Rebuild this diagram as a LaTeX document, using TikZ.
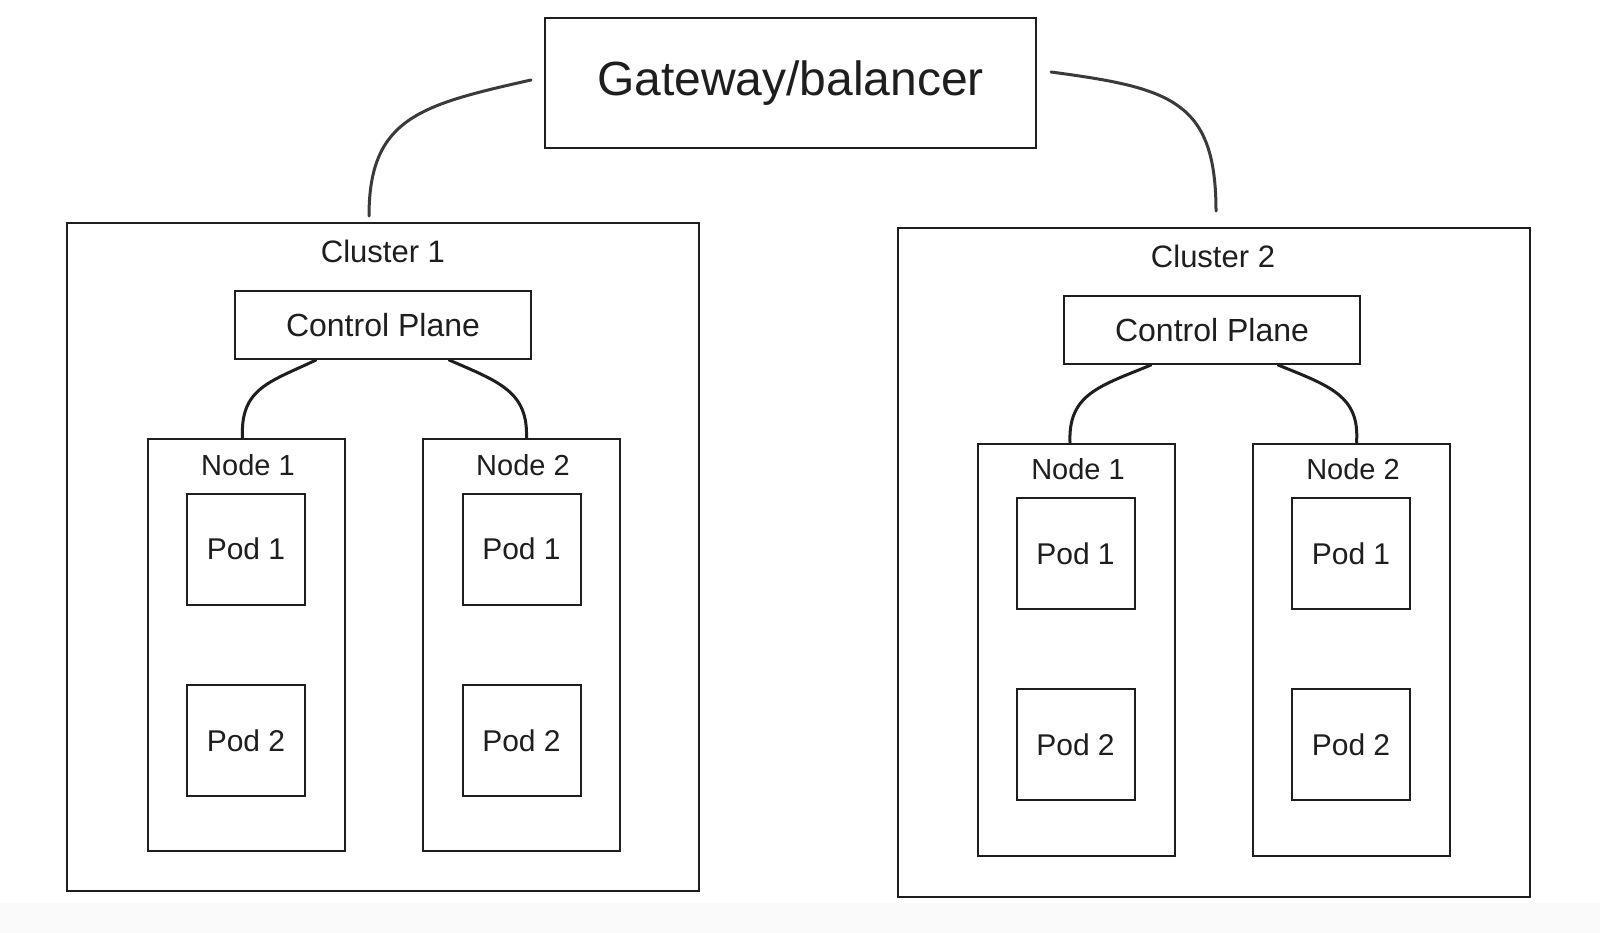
\documentclass[tikz,border=0pt]{standalone}
\usepackage{fontspec}
\setmainfont{Liberation Sans}
\definecolor{ink}{HTML}{1E1E1E}
\definecolor{wire}{HTML}{3A3A3A}
\definecolor{band}{HTML}{FAFAFA}
\begin{document}
\begin{tikzpicture}[x=1pt,y=-1pt,
  box/.style={draw=ink,line width=2pt,inner sep=0pt,rectangle},
  lbl/.style={text=ink,inner sep=0pt,font=\fontsize{31}{34}\selectfont},
  nlbl/.style={lbl,font=\fontsize{29}{32}\selectfont},
  podbox/.style={box,minimum width=118pt,minimum height=111pt,text=ink,font=\fontsize{30}{33}\selectfont},
  nodebox/.style={box,minimum width=197pt,minimum height=412pt},
  cpbox/.style={box,minimum width=296pt,minimum height=68pt,text=ink,font=\fontsize{32}{35}\selectfont},
  clbox/.style={box,minimum width=632pt,minimum height=668pt},
  wirea/.style={draw=wire,line width=3pt,line cap=round},
  wireb/.style={draw=ink,line width=3pt,line cap=round}]
\useasboundingbox (0,0) rectangle (1600,933);
\fill[white] (0,0) rectangle (1600,933);
\fill[band] (0,903) rectangle (1600,933);

% gateway
\node[box,minimum width=491pt,minimum height=130pt,text=ink,font=\fontsize{48}{52}\selectfont] (gw) at (790.5,83) {\raisebox{2pt}{Gateway/balancer}};

% clusters
\node[clbox] (c1) at (383,557) {};
\node[clbox] (c2) at (1213.5,562.5) {};
\node[lbl] (c1l) at (383,251) {Cluster 1};
\node[lbl] (c2l) at (1213,256) {Cluster 2};

% control planes
\node[cpbox] (cp1) at (383,325) {Control Plane};
\node[cpbox] (cp2) at (1212,330) {Control Plane};

% cluster 1 nodes
\node[nodebox] (n11) at (246.5,645) {};
\node[nodebox] (n12) at (521.5,645) {};
\node[nlbl] (n11l) at (248,465) {Node 1};
\node[nlbl] (n12l) at (523,465) {Node 2};
\node[podbox] (p111) at (246,549) {Pod 1};
\node[podbox] (p112) at (246,740.5) {Pod 2};
\node[podbox] (p121) at (521.5,549) {Pod 1};
\node[podbox] (p122) at (521.5,740.5) {Pod 2};

% cluster 2 nodes
\node[nodebox] (n21) at (1076,649.5) {};
\node[nodebox] (n22) at (1351.5,649.5) {};
\node[nlbl] (n21l) at (1078,469) {Node 1};
\node[nlbl] (n22l) at (1353,469) {Node 2};
\node[podbox] (p211) at (1075.5,553.5) {Pod 1};
\node[podbox] (p212) at (1075.5,744.5) {Pod 2};
\node[podbox] (p221) at (1351,553.5) {Pod 1};
\node[podbox] (p222) at (1351,744.5) {Pod 2};

% connector ends
\coordinate (gwL) at (531,80);
\coordinate (gwR) at (1051,72);
\coordinate (c1t) at (369,216);
\coordinate (c2t) at (1216,211);

\draw[wirea] (gwL) .. controls (420,105) and (369,118) .. (c1t);
\draw[wirea] (gwR) .. controls (1170,88) and (1216,100) .. (c2t);

\draw[wireb] ([xshift=-67pt]cp1.south) .. controls (270,382) and (240,388) .. ([xshift=-4pt]n11.north);
\draw[wireb] ([xshift=66pt]cp1.south) .. controls (500,382) and (528,392) .. ([xshift=5pt]n12.north);
\draw[wireb] ([xshift=-61pt]cp2.south) .. controls (1100,386) and (1068,394) .. ([xshift=-6pt]n21.north);
\draw[wireb] ([xshift=66pt]cp2.south) .. controls (1330,386) and (1360,396) .. ([xshift=5pt]n22.north);
\end{tikzpicture}
\end{document}
